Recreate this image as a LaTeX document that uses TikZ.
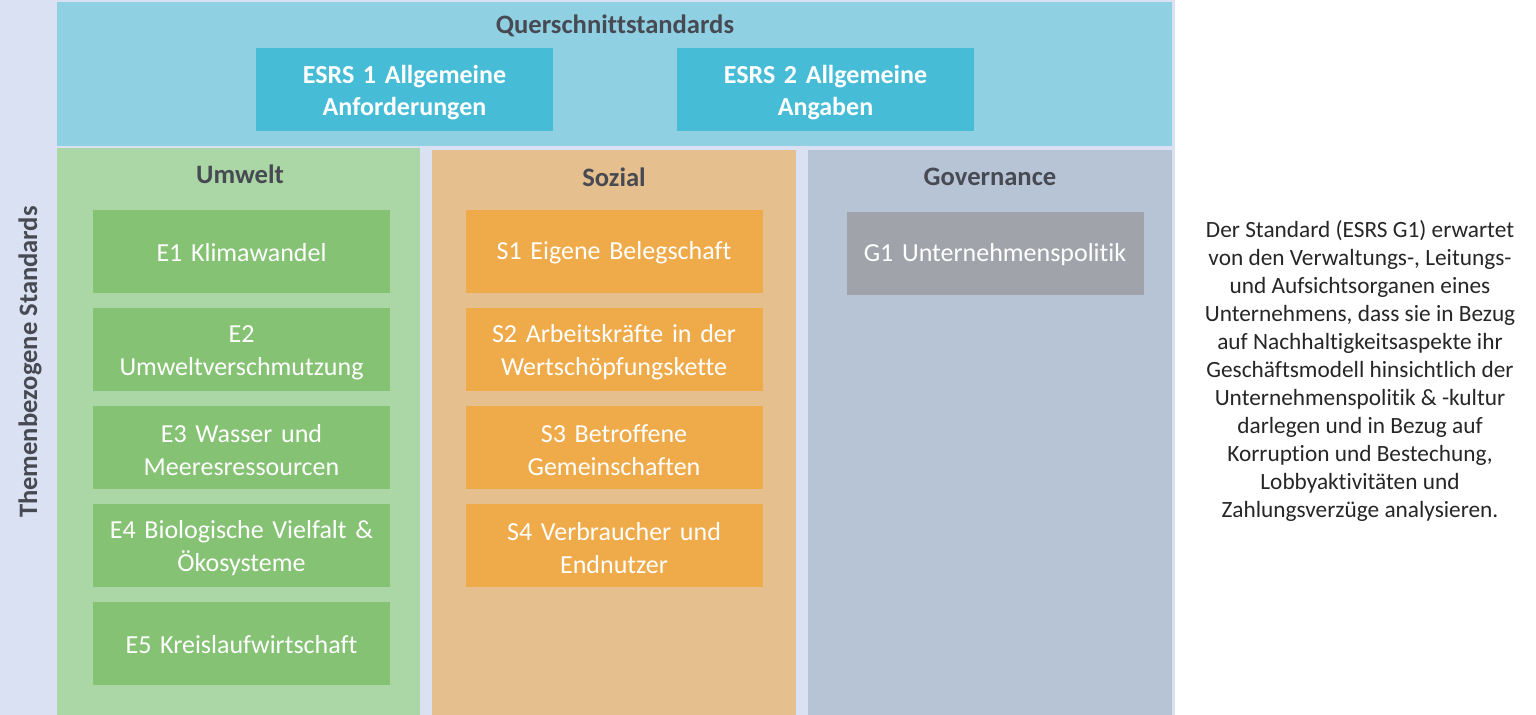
\documentclass[tikz,border=0pt]{standalone}
\usepackage{fontspec}
\setmainfont{Carlito}[Ligatures=CommonOff]
\definecolor{lav}{HTML}{D9E1F2}
\definecolor{qbg}{HTML}{8FD0E3}
\definecolor{qbox}{HTML}{46BCD6}
\definecolor{ebg}{HTML}{ABD6A5}
\definecolor{ebox}{HTML}{85C274}
\definecolor{sbg}{HTML}{E6BF8F}
\definecolor{sbox}{HTML}{EFAA4A}
\definecolor{gbg}{HTML}{B7C4D5}
\definecolor{gbox}{HTML}{A0A4AA}
\definecolor{ttl}{HTML}{474A52}
\definecolor{body}{HTML}{262626}
\tikzset{
  area/.style={inner sep=0pt, outer sep=0pt},
  itembox/.style={inner sep=0pt, outer sep=0pt, minimum width=148.5pt, minimum height=41.5pt,
    text=white, align=center, font=\fontsize{13}{16.5}\selectfont, text width=146pt},
  qitem/.style={itembox, font=\bfseries\fontsize{13}{16}\selectfont},
  coltitle/.style={text=ttl, font=\bfseries\fontsize{13.3}{15}\selectfont, inner sep=0pt},
}
\begin{document}
\begin{tikzpicture}[x=0.5pt,y=-0.5pt]
\useasboundingbox (0,0) rectangle (1536,715);
\fill[white] (0,0) rectangle (1536,715);
\fill[lav] (0,0) rectangle (1175,715);
% top area
\node[area, fill=qbg, minimum width=557.5pt, minimum height=72pt] (quer) at (614.5,74) {};
\node[coltitle] (quertitle) at (615,26) {Querschnittstandards};
\node[qitem, fill=qbox] (esrs1) at (404.5,89.5) {};
\node[qitem, fill=none, text=white] (esrs1t) at (404.5,92.5) {ESRS 1 Allgemeine\\Anforderungen};
\node[qitem, fill=qbox] (esrs2) at (825.5,89.5) {};
\node[qitem, fill=none, text=white] (esrs2t) at (825.5,92.5) {ESRS 2 Allgemeine\\Angaben};
% columns
\node[area, fill=ebg, minimum width=181.5pt, minimum height=283.5pt] (umwelt) at (238.5,431.5) {};
\node[area, fill=sbg, minimum width=182pt, minimum height=282.5pt] (sozial) at (614,432.5) {};
\node[area, fill=gbg, minimum width=182pt, minimum height=282.5pt] (gov) at (990,432.5) {};
\node[coltitle] (umwelttitle) at (240,174) {Umwelt};
\node[coltitle] (sozialtitle) at (614,177) {Sozial};
\node[coltitle] (govtitle) at (990,177) {Governance};
% E boxes
\node[itembox, fill=ebox] (e1) at (241.5,251.5) {};
\node[itembox, fill=none] (e1t) at (241.5,252.5) {E1 Klimawandel};
\node[itembox, fill=ebox] (e2) at (241.5,349.5) {};
\node[itembox, fill=none] (e2t) at (241.5,352.5) {E2\\Umweltverschmutzung};
\node[itembox, fill=ebox] (e3) at (241.5,447.5) {};
\node[itembox, fill=none] (e3t) at (241.5,450.5) {E3 Wasser und\\Meeresressourcen};
\node[itembox, fill=ebox] (e4) at (241.5,545.5) {};
\node[itembox, fill=none] (e4t) at (241.5,548.5) {E4 Biologische Vielfalt \&\\Ökosysteme};
\node[itembox, fill=ebox] (e5) at (241.5,643.5) {};
\node[itembox, fill=none] (e5t) at (241.5,644.5) {E5 Kreislaufwirtschaft};
% S boxes
\node[itembox, fill=sbox] (s1) at (614,251.5) {};
\node[itembox, fill=none] (s1t) at (614,252.5) {S1 Eigene Belegschaft};
\node[itembox, fill=sbox] (s2) at (614,349.5) {};
\node[itembox, fill=none] (s2t) at (614,352.5) {S2 Arbeitskräfte in der\\Wertschöpfungskette};
\node[itembox, fill=sbox] (s3) at (614,447.5) {};
\node[itembox, fill=none] (s3t) at (614,450.5) {S3 Betroffene\\Gemeinschaften};
\node[itembox, fill=sbox] (s4) at (614,545.5) {};
\node[itembox, fill=none] (s4t) at (614,548.5) {S4 Verbraucher und\\Endnutzer};
% G box
\node[itembox, fill=gbox] (g1) at (995,253.5) {};
\node[itembox, fill=none] (g1t) at (995,254.5) {G1 Unternehmenspolitik};
% side label
\node[coltitle, rotate=90] (side) at (30,362) {Themenbezogene Standards};
% right text
\node[text=body, align=center, inner sep=0pt, font=\fontsize{11.65}{14}\selectfont] (desc) at (1360,371)
{Der Standard (ESRS G1) erwartet\\von den Verwaltungs-, Leitungs-\\und Aufsichtsorganen eines\\Unternehmens, dass sie in Bezug\\auf Nachhaltigkeitsaspekte ihr\\Geschäftsmodell hinsichtlich der\\Unternehmenspolitik \& -kultur\\darlegen und in Bezug auf\\Korruption und Bestechung,\\Lobbyaktivitäten und\\Zahlungsverzüge analysieren.};
\end{tikzpicture}
\end{document}
